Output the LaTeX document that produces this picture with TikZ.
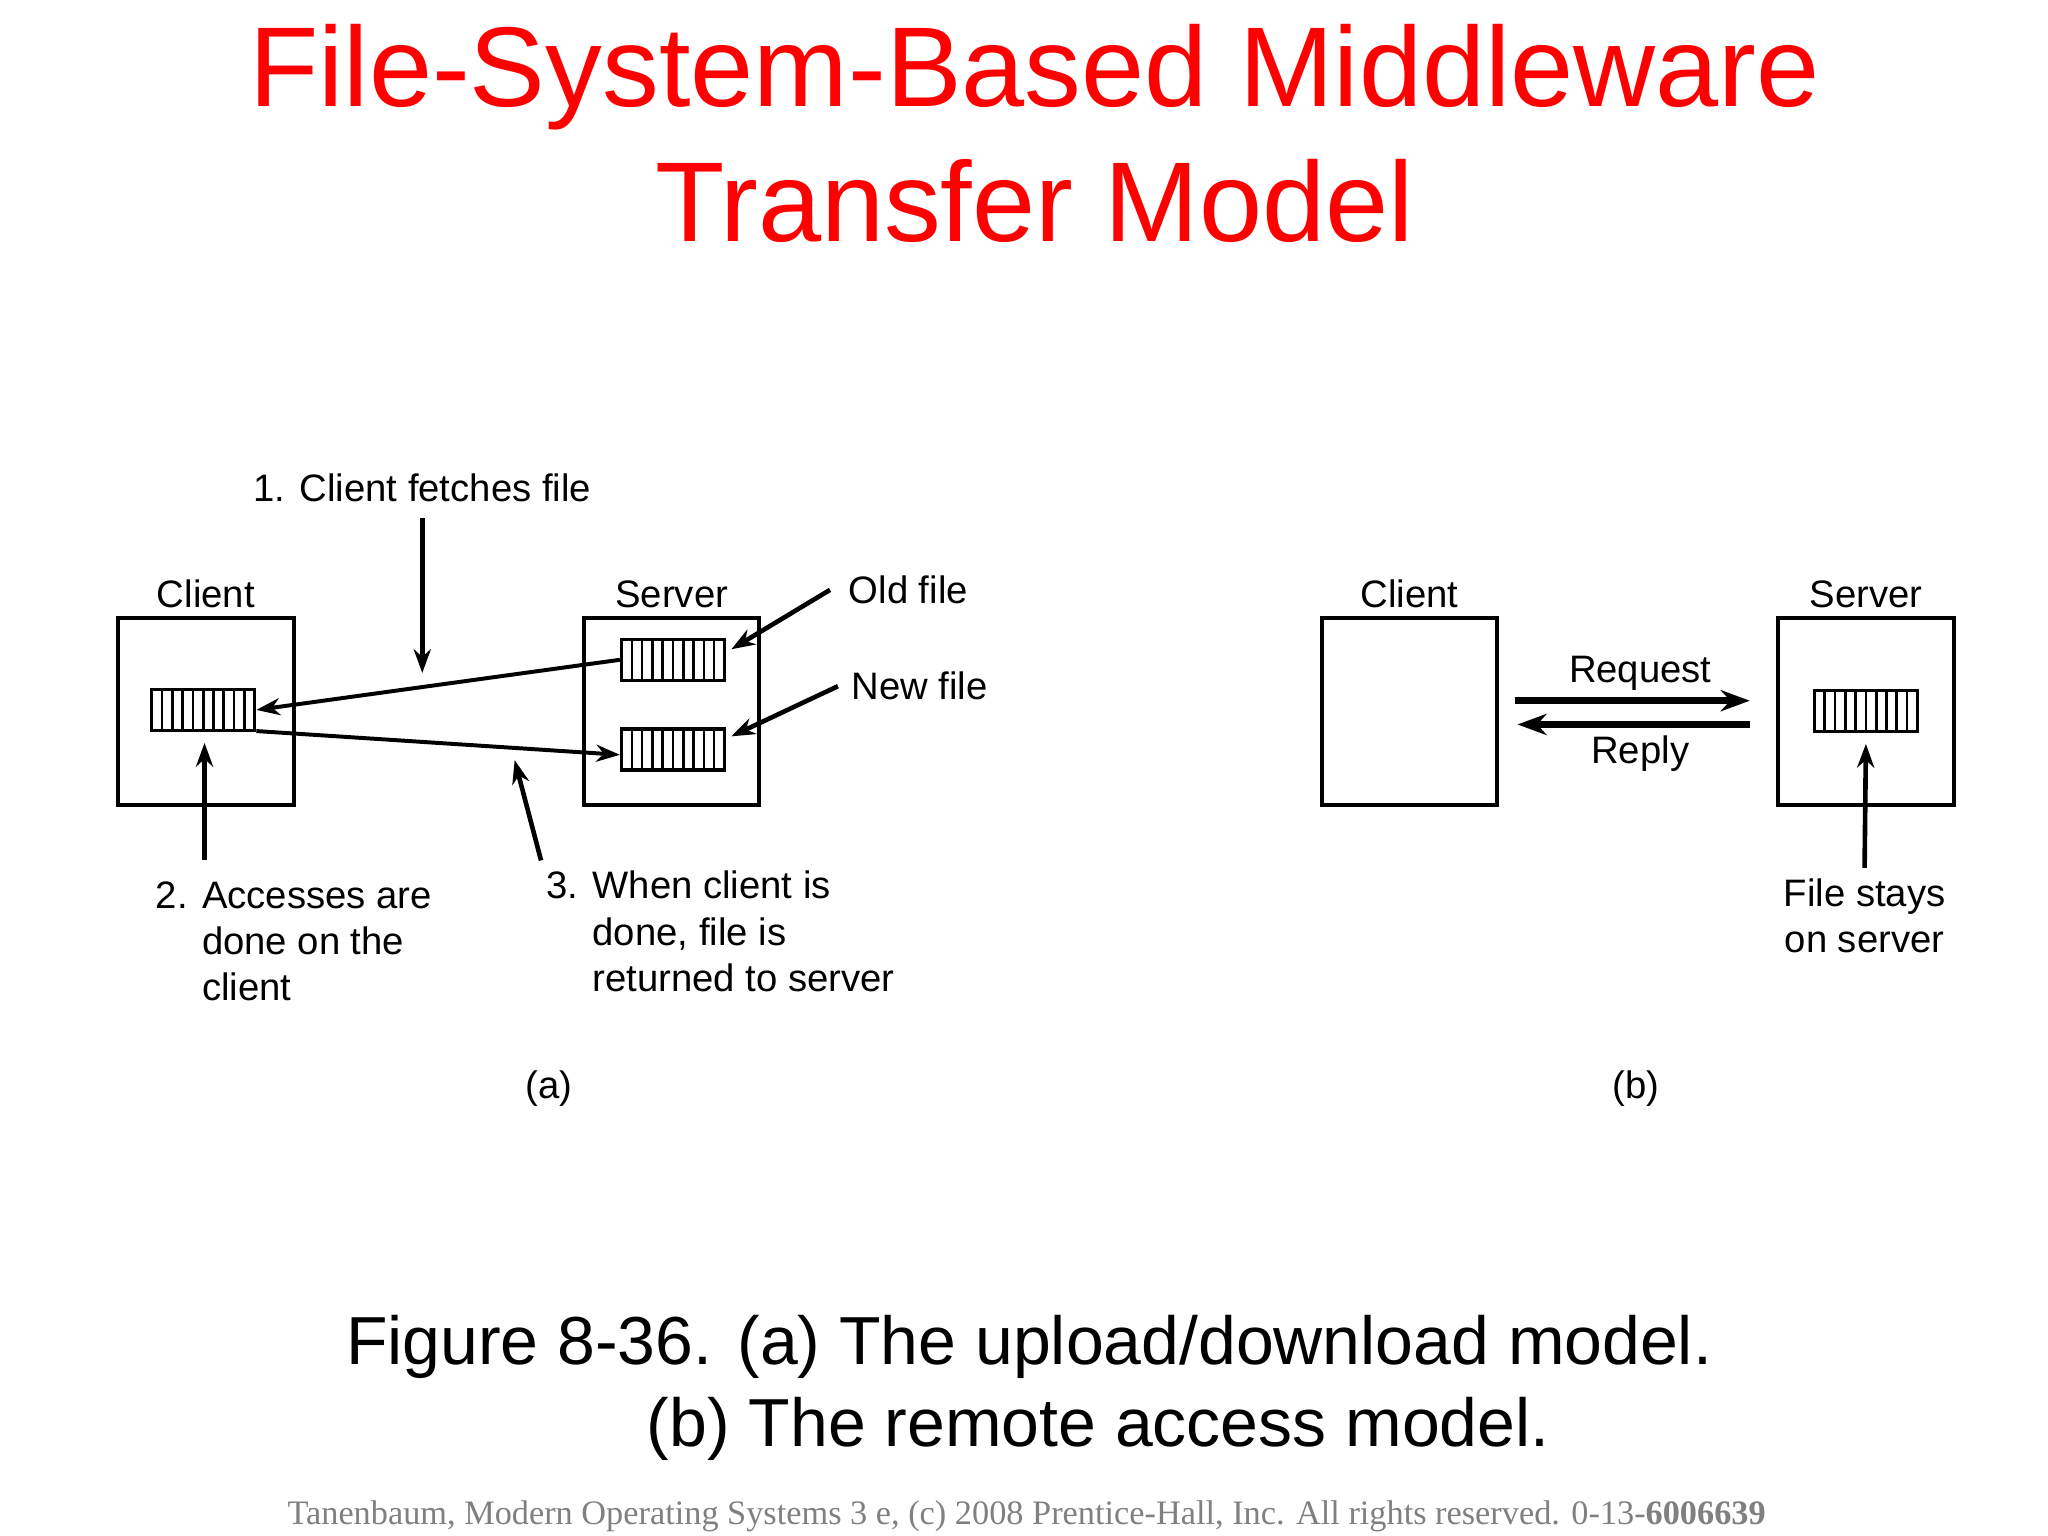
\documentclass[tikz,border=0pt]{standalone}
\usepackage{fontspec}
\setmainfont{Liberation Sans}
\newfontfamily\footfont{Liberation Serif}
\usetikzlibrary{arrows.meta}

\tikzset{
  box/.style={draw, line width=3pt, minimum width=133pt, minimum height=142pt, inner sep=0pt},
  file/.style={draw, line width=2.5pt, minimum width=78pt, minimum height=31pt, inner sep=0pt,
    path picture={
      \foreach \i in {1,...,9}
        \draw[line width=2pt] ([xshift=\i*7.8pt]path picture bounding box.south west) -- ++(0,31pt);
    }},
  lbl/.style={font=\fontsize{29}{35}\selectfont, align=left, inner sep=0pt},
  ptr/.style={-{Stealth[length=18pt,width=13pt]}, line width=3.5pt},
  flow/.style={-{Stealth[length=18pt,width=13pt]}, line width=3pt},
  wide/.style={-{Stealth[length=22pt,width=16pt]}, line width=5pt},
}

\begin{document}
\begin{tikzpicture}[x=1pt, y=-1pt]

    \useasboundingbox (0,0) rectangle (1552,1164);

    % Title
    \node[text=red, font=\fontsize{86}{102}\selectfont, align=center] (title) at (784,101)
      {File-System-Based Middleware\\Transfer Model};

    % (a) upload/download model
    \node[box] (clientA) at (156,539) {};
    \node[box] (serverA) at (509,539) {};
    \node[lbl, anchor=south] at (clientA.north) [yshift=6pt] {Client};
    \node[lbl, anchor=south] at (serverA.north) [yshift=6pt] {Server};

    \node[file] (fileA) at (154,538) {};
    \node[file] (oldfile) at (510,500) {};
    \node[file] (newfile) at (510,568) {};

    \draw[flow] (oldfile.west) -- (fileA.east);
    \draw[flow] ([yshift=-16pt]fileA.east) -- ([yshift=-4pt]newfile.west);

    \node[lbl] (fetch) at (320,370) {1. Client fetches file};
    \coordinate (fetchtip) at (320,510);
    \draw[ptr] ([yshift=-12pt]fetch.south) -- (fetchtip);

    \node[lbl, anchor=west] (oldlbl) at (643,447) {Old file};
    \node[lbl, anchor=west] (newlbl) at (645,520) {New file};
    \draw[ptr] ([xshift=-14pt]oldlbl.west) -- ([xshift=4pt,yshift=8pt]oldfile.east);
    \draw[ptr] ([xshift=-10pt]newlbl.west) -- ([xshift=4pt,yshift=10pt]newfile.east);

    \node[lbl, anchor=north west] (access) at (118,668)
      {2. Accesses are\\\hphantom{2. }done on the\\\hphantom{2. }client};
    \coordinate (accesstip) at (155,563);
    \draw[ptr] (155,652) -- (accesstip);

    \node[lbl, anchor=north west] (done) at (414,660)
      {3. When client is\\\hphantom{3. }done, file is\\\hphantom{3. }returned to server};
    \coordinate (donetip) at (390,576);
    \draw[ptr] (410,652) -- (donetip);

    \node[lbl] (capA) at (416,825) {(a)};

    % (b) remote access model
    \node[box] (clientB) at (1068,539) {};
    \node[box] (serverB) at (1414,539) {};
    \node[lbl, anchor=south] at (clientB.north) [yshift=6pt] {Client};
    \node[lbl, anchor=south] at (serverB.north) [yshift=6pt] {Server};
    \node[file] (fileB) at (1414,539) {};

    \draw[wide] ([xshift=12pt,yshift=8pt]clientB.east) -- ([xshift=-20pt,yshift=8pt]serverB.west);
    \draw[wide] ([xshift=-20pt,yshift=-10pt]serverB.west) -- ([xshift=14pt,yshift=-10pt]clientB.east);
    \node[lbl] (req) at (1243,510) {Request};
    \node[lbl] (rep) at (1243,571) {Reply};

    \node[lbl, align=center] (stays) at (1413,694) {File stays\\on server};
    \draw[ptr] ([yshift=8pt]stays.north) -- ([yshift=-8pt]fileB.south);

    \node[lbl] (capB) at (1240,825) {(b)};

    % Caption and footer
    \node[font=\fontsize{51.5}{62}\selectfont, anchor=west, inner sep=0pt] (cap1) at (262,1021)
      {Figure 8-36. (a) The upload/download model.};
    \node[font=\fontsize{51.5}{62}\selectfont, anchor=west, inner sep=0pt] (cap2) at (490,1083)
      {(b) The remote access model.};
    \node[font=\footfont\fontsize{26}{30}\selectfont, text=gray] (foot) at (778,1149)
      {Tanenbaum, Modern Operating Systems 3 e, (c) 2008 Prentice-Hall, Inc. All rights reserved. 0-13-\textbf{6006639}};

\end{tikzpicture}
\end{document}
